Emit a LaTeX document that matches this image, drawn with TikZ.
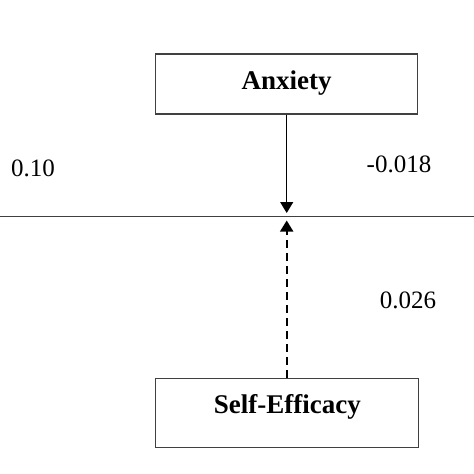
\documentclass[tikz,border=0pt]{standalone}
\usepackage{fontspec}
\setmainfont{Liberation Serif}
\usetikzlibrary{arrows.meta}
\begin{document}
\begin{tikzpicture}[x=1pt,y=-1pt,
  boxnode/.style={draw=black!75,line width=1.3pt,minimum width=262pt,inner sep=0pt,
    font=\fontsize{27}{30}\selectfont\bfseries,text height=18pt},
  numlabel/.style={font=\fontsize{25}{28}\selectfont,inner sep=0pt},
  tip/.style={-{Triangle[width=13pt,length=11pt]}}]
\useasboundingbox (0,0) rectangle (474,474);
\node[boxnode,minimum height=60pt,text depth=7pt] (anx) at (286.7,84) {Anxiety};
\node[boxnode,minimum width=263pt,minimum height=69pt,text depth=18pt] (se) at (287.3,413) {Self-Efficacy};
\coordinate (l) at (0,216.5);
\coordinate (r) at (474,216.5);
\draw[black!75,line width=1.4pt] (l) -- (r);
\coordinate (t1) at (286.7,213);
\coordinate (t2) at (286.7,220.5);
\draw[tip,line width=1.2pt] (anx.south) -- (t1);
\draw[tip,line width=1.8pt,dash pattern=on 8pt off 5pt] (se.north -| t2) -- (t2);
\node[numlabel] (n1) at (33,168) {0.10};
\node[numlabel] (n2) at (399,164) {-0.018};
\node[numlabel] (n3) at (408,300) {0.026};
\end{tikzpicture}
\end{document}
